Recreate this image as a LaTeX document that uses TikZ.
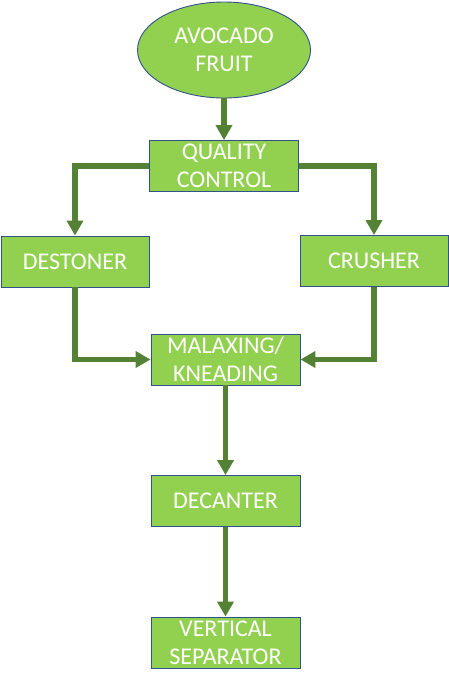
\documentclass[tikz,border=0pt]{standalone}
\usepackage{fontspec}
\setmainfont{Carlito}
\usetikzlibrary{shapes.geometric,arrows.meta}
\definecolor{boxfill}{HTML}{92D050}
\definecolor{boxline}{HTML}{2F528F}
\definecolor{arrowcol}{HTML}{548235}
\tikzset{
  procbox/.style={draw=boxline, line width=0.9pt, fill=boxfill, text=white,
    minimum width=149pt, minimum height=51pt, inner sep=0pt, align=center,
    font=\fontsize{24}{28}\selectfont},
  startell/.style={ellipse, draw=boxline, line width=0.9pt, fill=boxfill, text=white,
    minimum width=173pt, minimum height=96pt, inner sep=0pt, align=center,
    font=\fontsize{24}{28}\selectfont},
  flow/.style={draw=arrowcol, line width=5.5pt,
    -{Triangle[width=16pt,length=15pt]}}
}
\begin{document}
\begin{tikzpicture}[x=1pt,y=-1pt]
\useasboundingbox (0,0) rectangle (449,686);
\node[startell] (fruit) at (224,50) {AVOCADO\\FRUIT};
\node[procbox] (qc) at (224,166) {QUALITY\\CONTROL};
\node[procbox, minimum width=148pt] (dest) at (75,261.5) {DESTONER};
\node[procbox, minimum width=148pt] (crush) at (374,261) {CRUSHER};
\node[procbox] (mal) at (225.5,359.5) {MALAXING/\\KNEADING};
\node[procbox] (dec) at (225.5,501) {DECANTER};
\node[procbox] (sep) at (225.5,642.5) {VERTICAL\\SEPARATOR};
\draw[flow] (fruit.south) -- (qc.north);
\draw[flow] (qc.west) -| (dest.north);
\draw[flow] (qc.east) -| (crush.north);
\draw[flow] (dest.south) |- (mal.west);
\draw[flow] (crush.south) |- (mal.east);
\draw[flow] (mal.south) -- (dec.north);
\draw[flow] (dec.south) -- (sep.north);
\end{tikzpicture}
\end{document}
